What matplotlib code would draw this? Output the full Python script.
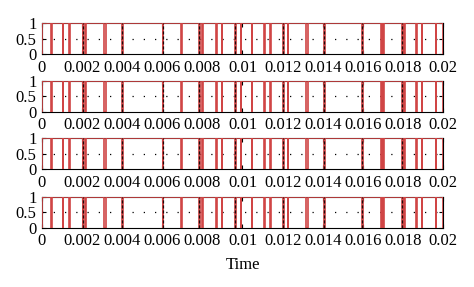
import numpy as np
import matplotlib.pyplot as plt
from matplotlib.ticker import FormatStrFormatter

plt.rcParams['font.family'] = ['Liberation Serif', 'DejaVu Serif']

# switching instants (s) of the red gate signal, same in every panel
notch_times = [0.00045, 0.00103, 0.00136, 0.00203, 0.00214, 0.00309, 0.0040,
               0.00602, 0.00692, 0.00785, 0.00798, 0.00868, 0.00896, 0.00963,
               0.00991, 0.01046, 0.01107, 0.01137, 0.01204, 0.01225, 0.01317,
               0.01408, 0.01597, 0.01689, 0.01702, 0.01797, 0.01807, 0.01865,
               0.01894, 0.01964]
notch_widths = [0.00003] * len(notch_times)
for i in (5, 8, 20, 23):
    notch_widths[i] = 0.00008

# instants of the black reference pulses and the reference level
ref_times = [0.00203, 0.0040, 0.00602, 0.00785, 0.00963, 0.01204, 0.01408,
             0.01597, 0.01797]
ref_level = 0.5

t_end = 0.02
xticks = np.arange(0, 0.0201, 0.002)
yticks = [0, 0.5, 1]

# build the red step trace
t_red, y_red = [0, 0], [0, 1]
for tn, w in zip(notch_times, notch_widths):
    t_red += [tn, tn, tn + w, tn + w]
    y_red += [1, 0, 0, 1]
t_red += [t_end, t_end]
y_red += [1, 0]

fig = plt.figure(figsize=(4.74, 2.87), dpi=100)

bottoms = [0.811, 0.610, 0.411, 0.206]
for b in bottoms:
    ax = fig.add_axes([0.0886, b, 0.846, 0.108])
    ax.axhline(ref_level, color='black', lw=0.9, linestyle=(0, (1, 8)), zorder=2)
    ax.plot(t_red, y_red, color='#d04545', lw=1.2, zorder=3)
    ax.vlines(ref_times, 0, 1, colors='black', lw=0.9,
              linestyles=(0, (2.5, 1.5)), zorder=4, alpha=0.85)
    ax.set_xlim(0, t_end)
    ax.set_ylim(0, 1)
    ax.set_xticks(xticks)
    ax.set_yticks(yticks)
    ax.xaxis.set_major_formatter(FormatStrFormatter('%g'))
    ax.set_yticklabels(['0', '0.5', '1'])
    ax.tick_params(direction='in', top=True, right=True, length=3,
                   labelsize=12, pad=4)
    for s in ax.spines.values():
        s.set_linewidth(0.8)

fig.text(0.512, 1 - 265 / 287, 'Time', ha='center', va='center', fontsize=12)

plt.savefig('out.png', dpi=100)
